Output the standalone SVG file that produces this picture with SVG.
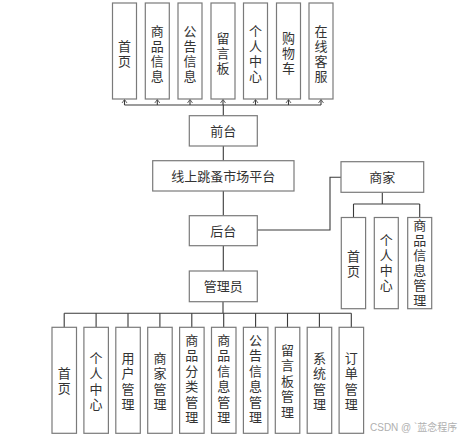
<svg xmlns="http://www.w3.org/2000/svg" width="474" height="439" viewBox="0 0 474 439">
<style>
.box{fill:#fff;stroke:#7a7a7a;stroke-width:1.2}
.ln{fill:none;stroke:#3a3a3a;stroke-width:1.1}
.t{font-family:"Liberation Serif","Noto Sans CJK SC",serif;font-size:13px;fill:#333;text-anchor:middle;dominant-baseline:central}
.wm{font-family:"Liberation Sans","Noto Sans CJK SC",sans-serif;font-size:10px;fill:#b0b0b0}
</style>
<defs>
<marker id="ar" viewBox="-4 -4 8 8" markerWidth="8" markerHeight="8" refX="0" refY="0" orient="auto" markerUnits="userSpaceOnUse">
<path d="M-3.5,-2.5 L0,0 L-3.5,2.5" fill="none" stroke="#555" stroke-width="0.9"/>
</marker>
</defs>
<rect width="474" height="439" fill="#fff"/>

<g id="connectors">
<!-- front tree -->
<path class="ln" d="M223.3,115.7 V105 M124.5,105 H321"/>
<path class="ln" marker-end="url(#ar)" d="M124.5,105 V99.5"/>
<path class="ln" marker-end="url(#ar)" d="M157.3,105 V99.5"/>
<path class="ln" marker-end="url(#ar)" d="M190,105 V99.5"/>
<path class="ln" marker-end="url(#ar)" d="M223,105 V99.5"/>
<path class="ln" marker-end="url(#ar)" d="M255.5,105 V99.5"/>
<path class="ln" marker-end="url(#ar)" d="M288.5,105 V99.5"/>
<path class="ln" marker-end="url(#ar)" d="M321,105 V99.5"/>
<!-- spine -->
<path class="ln" d="M223.3,146 V160.7 M223.3,191 V215.7 M223.3,245.7 V271"/>
<!-- to merchant -->
<path class="ln" d="M257.3,230 H330 V177.3 H341"/>
<path class="ln" d="M382.3,192.3 V204 M353.5,204 H419.7 M353.5,204 V217.5 M419.7,204 V217.5"/>
<!-- admin tree -->
<path class="ln" d="M223,301.7 V313.3 M64.2,313.3 H351.3"/>
<path class="ln" d="M64.2,313.3 V327.3 M96.1,313.3 V327.3 M128,313.3 V327.3 M159.9,313.3 V327.3 M191.8,313.3 V327.3 M223.7,313.3 V327.3 M255.6,313.3 V327.3 M287.5,313.3 V327.3 M319.4,313.3 V327.3 M351.3,313.3 V327.3"/>
</g>

<!-- top row -->
<g id="f1"><rect class="box" x="112.5" y="3" width="24" height="96"/><text class="t"><tspan x="124.5" y="45.5">首</tspan><tspan x="124.5" y="60.5">页</tspan></text></g>
<g id="f2"><rect class="box" x="145.3" y="3" width="24" height="96"/><text class="t"><tspan x="157.3" y="30.5">商</tspan><tspan x="157.3" y="45.5">品</tspan><tspan x="157.3" y="60.5">信</tspan><tspan x="157.3" y="75.5">息</tspan></text></g>
<g id="f3"><rect class="box" x="178" y="3" width="24" height="96"/><text class="t"><tspan x="190" y="30.5">公</tspan><tspan x="190" y="45.5">告</tspan><tspan x="190" y="60.5">信</tspan><tspan x="190" y="75.5">息</tspan></text></g>
<g id="f4"><rect class="box" x="211" y="3" width="24" height="96"/><text class="t"><tspan x="223" y="38">留</tspan><tspan x="223" y="53">言</tspan><tspan x="223" y="68">板</tspan></text></g>
<g id="f5"><rect class="box" x="243.5" y="3" width="24" height="96"/><text class="t"><tspan x="255.5" y="30.5">个</tspan><tspan x="255.5" y="45.5">人</tspan><tspan x="255.5" y="60.5">中</tspan><tspan x="255.5" y="75.5">心</tspan></text></g>
<g id="f6"><rect class="box" x="276.5" y="3" width="24" height="96"/><text class="t"><tspan x="288.5" y="38">购</tspan><tspan x="288.5" y="53">物</tspan><tspan x="288.5" y="68">车</tspan></text></g>
<g id="f7"><rect class="box" x="309" y="3" width="24" height="96"/><text class="t"><tspan x="321" y="30.5">在</tspan><tspan x="321" y="45.5">线</tspan><tspan x="321" y="60.5">客</tspan><tspan x="321" y="75.5">服</tspan></text></g>

<!-- spine nodes -->
<g id="qiantai"><rect class="box" x="189.3" y="115.7" width="68" height="30.3"/><text class="t" x="223.3" y="131">前台</text></g>
<g id="platform"><rect class="box" x="152.7" y="160.7" width="141.3" height="30.3"/><text class="t" x="223.3" y="176">线上跳蚤市场平台</text></g>
<g id="houtai"><rect class="box" x="189.3" y="215.7" width="68" height="30"/><text class="t" x="223.3" y="231">后台</text></g>
<g id="admin"><rect class="box" x="189.3" y="271" width="68" height="30.7"/><text class="t" x="223.3" y="286.5">管理员</text></g>
<g id="merchant"><rect class="box" x="341" y="161.7" width="82.7" height="30.6"/><text class="t" x="382.3" y="177">商家</text></g>

<!-- merchant children -->
<g id="m1"><rect class="box" x="341.3" y="217.5" width="24.3" height="91.2"/><text class="t"><tspan x="353.5" y="255.5">首</tspan><tspan x="353.5" y="270.5">页</tspan></text></g>
<g id="m2"><rect class="box" x="374.3" y="217.5" width="24" height="91.2"/><text class="t"><tspan x="386.3" y="240">个</tspan><tspan x="386.3" y="255">人</tspan><tspan x="386.3" y="270">中</tspan><tspan x="386.3" y="285">心</tspan></text></g>
<g id="m3"><rect class="box" x="407.7" y="217.5" width="24" height="91.2"/><text class="t"><tspan x="419.7" y="225">商</tspan><tspan x="419.7" y="240">品</tspan><tspan x="419.7" y="255">信</tspan><tspan x="419.7" y="270">息</tspan><tspan x="419.7" y="285">管</tspan><tspan x="419.7" y="300">理</tspan></text></g>

<!-- admin children -->
<g id="a1"><rect class="box" x="52" y="327.3" width="24.5" height="106"/><text class="t"><tspan x="64.2" y="373">首</tspan><tspan x="64.2" y="388">页</tspan></text></g>
<g id="a2"><rect class="box" x="83.9" y="327.3" width="24.5" height="106"/><text class="t"><tspan x="96.1" y="357.5">个</tspan><tspan x="96.1" y="373">人</tspan><tspan x="96.1" y="388.5">中</tspan><tspan x="96.1" y="404">心</tspan></text></g>
<g id="a3"><rect class="box" x="115.8" y="327.3" width="24.5" height="106"/><text class="t"><tspan x="128" y="357.5">用</tspan><tspan x="128" y="373">户</tspan><tspan x="128" y="388.5">管</tspan><tspan x="128" y="404">理</tspan></text></g>
<g id="a4"><rect class="box" x="147.7" y="327.3" width="24.5" height="106"/><text class="t"><tspan x="159.9" y="357.5">商</tspan><tspan x="159.9" y="373">家</tspan><tspan x="159.9" y="388.5">管</tspan><tspan x="159.9" y="404">理</tspan></text></g>
<g id="a5"><rect class="box" x="179.6" y="327.3" width="24.5" height="106"/><text class="t"><tspan x="191.8" y="339.5">商</tspan><tspan x="191.8" y="355">品</tspan><tspan x="191.8" y="370.5">分</tspan><tspan x="191.8" y="386">类</tspan><tspan x="191.8" y="401.5">管</tspan><tspan x="191.8" y="417">理</tspan></text></g>
<g id="a6"><rect class="box" x="211.5" y="327.3" width="24.5" height="106"/><text class="t"><tspan x="223.7" y="339.5">商</tspan><tspan x="223.7" y="355">品</tspan><tspan x="223.7" y="370.5">信</tspan><tspan x="223.7" y="386">息</tspan><tspan x="223.7" y="401.5">管</tspan><tspan x="223.7" y="417">理</tspan></text></g>
<g id="a7"><rect class="box" x="243.4" y="327.3" width="24.5" height="106"/><text class="t"><tspan x="255.6" y="339.5">公</tspan><tspan x="255.6" y="355">告</tspan><tspan x="255.6" y="370.5">信</tspan><tspan x="255.6" y="386">息</tspan><tspan x="255.6" y="401.5">管</tspan><tspan x="255.6" y="417">理</tspan></text></g>
<g id="a8"><rect class="box" x="275.3" y="327.3" width="24.5" height="106"/><text class="t"><tspan x="287.5" y="349.5">留</tspan><tspan x="287.5" y="365">言</tspan><tspan x="287.5" y="380.5">板</tspan><tspan x="287.5" y="396">管</tspan><tspan x="287.5" y="411.5">理</tspan></text></g>
<g id="a9"><rect class="box" x="307.2" y="327.3" width="24.5" height="106"/><text class="t"><tspan x="319.4" y="357.5">系</tspan><tspan x="319.4" y="373">统</tspan><tspan x="319.4" y="388.5">管</tspan><tspan x="319.4" y="404">理</tspan></text></g>
<g id="a10"><rect class="box" x="339.1" y="327.3" width="24.5" height="106"/><text class="t"><tspan x="351.3" y="357.5">订</tspan><tspan x="351.3" y="373">单</tspan><tspan x="351.3" y="388.5">管</tspan><tspan x="351.3" y="404">理</tspan></text></g>

<text class="wm" x="370" y="431">CSDN @ `蓝念程序</text>
</svg>
